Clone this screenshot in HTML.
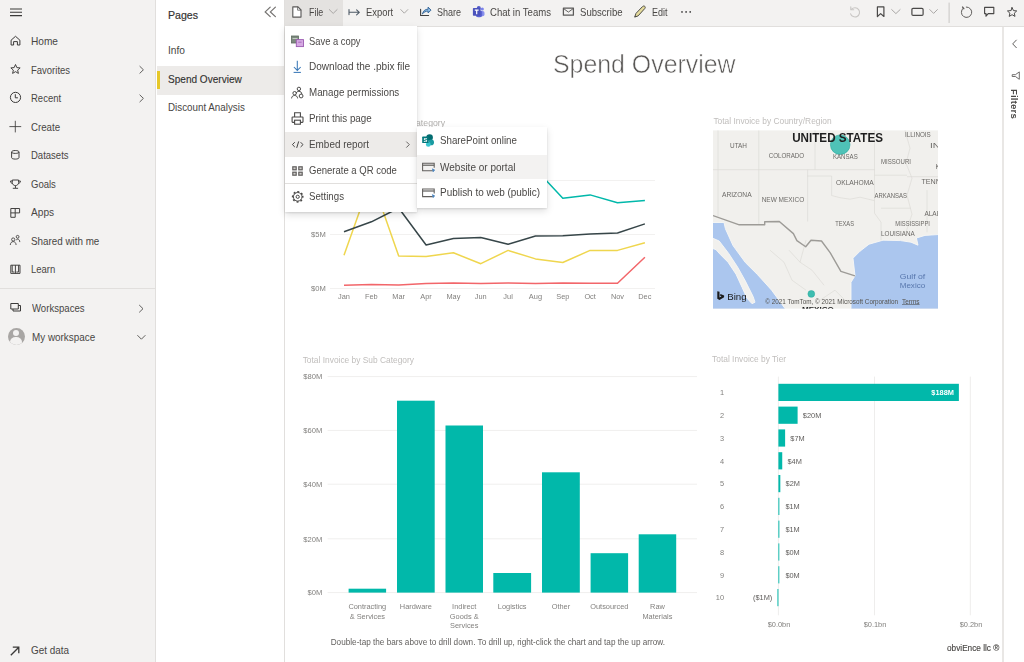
<!DOCTYPE html>
<html><head><meta charset="utf-8"><style>
html,body{margin:0;padding:0;}
body{width:1024px;height:662px;position:relative;overflow:hidden;background:#fff;font-family:"Liberation Sans",sans-serif;}
.t{position:absolute;white-space:nowrap;line-height:1;}
#wrap{position:absolute;left:0;top:0;width:1024px;height:662px;overflow:hidden;filter:blur(0.35px);}
</style></head><body><div id="wrap">
<div style="position:absolute;left:0;top:0;width:155px;height:662px;background:#f3f2f1;border-right:1px solid #e1dfdd"></div>
<svg style="position:absolute;left:0;top:0" width="156" height="662" viewBox="0 0 156 662" fill="none" stroke="#3b3a39" stroke-width="1.1"><path d="M10 9h12M10 12.3h12M10 15.6h12"/><path d="M11.1 45V40.2L15.5 36.3L19.9 40.2V45H17.4V41.6H13.6V45Z" stroke-width="1"/><path d="M15.5 64.5l1.35 3.1 3.3.3-2.5 2.2.75 3.3-2.9-1.75-2.9 1.75.75-3.3-2.5-2.2 3.3-.3z" stroke-width="0.95"/><circle cx="15.5" cy="97.4" r="5.1" stroke-width="1"/><path d="M15.3 94.2v3.6h2.6" stroke-width="1"/><path d="M15.3 120.8v11.6M9.4 126.6h11.8" stroke-width="0.85"/><path d="M11.6 152v5.6c0 .9 1.6 1.5 3.7 1.5s3.7-.6 3.7-1.5v-5.6M11.6 152c0-.9 1.6-1.5 3.7-1.5s3.7.6 3.7 1.5-1.6 1.4-3.7 1.4-3.7-.5-3.7-1.4z" stroke-width="0.95"/><path d="M12.3 180h6.3v2.6c0 1.7-1.4 3-3.15 3s-3.15-1.3-3.15-3zM12.3 181h-1.8c0 1.5 .9 2.4 2 2.5M18.6 181h1.8c0 1.5-.9 2.4-2 2.5M15.45 185.6v2.4M12.8 188.3h5.3" stroke-width="0.95"/><path d="M10.8 208.5h8.8v4.4h-4.4v4.4h-4.4zM15.2 208.5v4.4h-4.4" stroke-width="0.95"/><circle cx="13.2" cy="239.5" r="1.6" stroke-width="0.85"/><path d="M10.3 245c0-2 1.3-3.4 2.9-3.4s2.9 1.4 2.9 3.4" stroke-width="0.85"/><circle cx="17.6" cy="236.8" r="1.4" stroke-width="0.85"/><path d="M16.2 240.3c.3-.8.8-1.2 1.4-1.2 1.2 0 2.2 1.2 2.2 3" stroke-width="0.85"/><path d="M10.8 265.2h9.2v8.2h-9.2zM15.4 265.2v8.2M12.2 265.2v6.8h2.2M18.6 265.2v6.8h-2.2" stroke-width="0.95"/><path d="M10.8 303.5h7.5v5.5h-7.5zM13 309v2h7.5v-5.5h-2.2" stroke-width="1"/><path d="M139.6 66.1l3.8 3.7-3.8 3.7M139.6 94.7l3.8 3.7-3.8 3.7M139.2 305l3.8 3.7-3.8 3.7M137.4 335.2l4 4 4-4" stroke-width="0.95" stroke="#5a5856"/><path d="M10.8 655.2l8-8M12.8 647.2h6v6" stroke-width="1.3"/></svg>
<div style="position:absolute;left:8.1px;top:327.8px;width:17.2px;height:17.2px;border-radius:50%;background:#a8a6a4;overflow:hidden"><div style="position:absolute;left:5px;top:2.6px;width:6px;height:6px;border-radius:50%;background:#f3f2f1"></div><div style="position:absolute;left:2.3px;top:9.5px;width:11.4px;height:10px;border-radius:50%;background:#f3f2f1"></div></div>
<div style="position:absolute;left:0;top:288px;width:155px;height:1px;background:#e1dfdd"></div>
<div class="t " style="left:30.90px;top:37.10px;font-size:10.4px;color:#484644;font-weight:normal;transform:scaleX(0.9732250470279463);transform-origin:0 0;">Home</div>
<div class="t " style="left:30.90px;top:65.50px;font-size:10.4px;color:#484644;font-weight:normal;transform:scaleX(0.9142095579907848);transform-origin:0 0;">Favorites</div>
<div class="t " style="left:30.90px;top:94.30px;font-size:10.4px;color:#484644;font-weight:normal;transform:scaleX(0.9134342738899288);transform-origin:0 0;">Recent</div>
<div class="t " style="left:30.90px;top:122.70px;font-size:10.4px;color:#484644;font-weight:normal;transform:scaleX(0.932206783325992);transform-origin:0 0;">Create</div>
<div class="t " style="left:30.90px;top:151.10px;font-size:10.4px;color:#484644;font-weight:normal;transform:scaleX(0.9161388766638899);transform-origin:0 0;">Datasets</div>
<div class="t " style="left:30.90px;top:179.60px;font-size:10.4px;color:#484644;font-weight:normal;transform:scaleX(0.9165067840825958);transform-origin:0 0;">Goals</div>
<div class="t " style="left:30.90px;top:208.30px;font-size:10.4px;color:#484644;font-weight:normal;transform:scaleX(0.9744574043998228);transform-origin:0 0;">Apps</div>
<div class="t " style="left:30.90px;top:236.70px;font-size:10.4px;color:#484644;font-weight:normal;transform:scaleX(0.9465965253403127);transform-origin:0 0;">Shared with me</div>
<div class="t " style="left:30.90px;top:265.10px;font-size:10.4px;color:#484644;font-weight:normal;transform:scaleX(0.913518809606045);transform-origin:0 0;">Learn</div>
<div class="t " style="left:31.80px;top:304.20px;font-size:10.4px;color:#484644;font-weight:normal;transform:scaleX(0.9223448337839484);transform-origin:0 0;">Workspaces</div>
<div class="t " style="left:32.40px;top:332.50px;font-size:10.4px;color:#484644;font-weight:normal;transform:scaleX(0.9508889193982466);transform-origin:0 0;">My workspace</div>
<div class="t " style="left:30.90px;top:646.30px;font-size:10.4px;color:#484644;font-weight:normal;transform:scaleX(0.9525301582328062);transform-origin:0 0;">Get data</div>
<div style="position:absolute;left:156px;top:0;width:128px;height:662px;background:#fff;border-right:1px solid #e1dfdd"></div>
<div class="t " style="left:167.60px;top:9.70px;font-size:11px;color:#323130;font-weight:normal;transform:scaleX(0.961815426617741);transform-origin:0 0;-webkit-text-stroke:0.2px #3b3a39;">Pages</div>
<svg style="position:absolute;left:0;top:0" width="285" height="25" viewBox="0 0 285 25" fill="none" stroke="#767472" stroke-width="1.25" stroke-linecap="round"><path d="M270.2 7.1L265.2 11.9 270.2 16.6M275.4 7.1L270.4 11.9 275.4 16.6"/></svg>
<div style="position:absolute;left:157px;top:66px;width:127px;height:28.6px;background:#edebe9"></div>
<div style="position:absolute;left:157.4px;top:71px;width:2.6px;height:18px;background:#e6c82a"></div>
<div class="t " style="left:167.50px;top:46.10px;font-size:10.4px;color:#484644;font-weight:normal;transform:scaleX(0.9800036029544226);transform-origin:0 0;">Info</div>
<div class="t " style="left:167.50px;top:74.60px;font-size:10.4px;color:#323130;font-weight:normal;transform:scaleX(0.9671593380266118);transform-origin:0 0;-webkit-text-stroke:0.12px #323130;">Spend Overview</div>
<div class="t " style="left:167.50px;top:102.70px;font-size:10.4px;color:#484644;font-weight:normal;transform:scaleX(0.9434895463904087);transform-origin:0 0;">Discount Analysis</div>
<div style="position:absolute;left:285px;top:0;width:739px;height:26px;background:#f3f2f1;border-bottom:1px solid #e1dfdd"></div>
<div style="position:absolute;left:285px;top:0;width:58px;height:26px;background:#e4e2e0"></div>
<div class="t " style="left:308.60px;top:7.80px;font-size:10.3px;color:#4a4846;font-weight:normal;transform:scaleX(0.8615763495785761);transform-origin:0 0;">File</div>
<div class="t " style="left:366.40px;top:7.80px;font-size:10.3px;color:#4a4846;font-weight:normal;transform:scaleX(0.9136894647269326);transform-origin:0 0;">Export</div>
<div class="t " style="left:437.00px;top:7.80px;font-size:10.3px;color:#4a4846;font-weight:normal;transform:scaleX(0.8731554165480004);transform-origin:0 0;">Share</div>
<div class="t " style="left:490.00px;top:7.80px;font-size:10.3px;color:#4a4846;font-weight:normal;transform:scaleX(0.9291865369343912);transform-origin:0 0;">Chat in Teams</div>
<div class="t " style="left:580.00px;top:7.80px;font-size:10.3px;color:#4a4846;font-weight:normal;transform:scaleX(0.9300575503811026);transform-origin:0 0;">Subscribe</div>
<div class="t " style="left:651.80px;top:7.80px;font-size:10.3px;color:#4a4846;font-weight:normal;transform:scaleX(0.8732890203713151);transform-origin:0 0;">Edit</div>
<svg style="position:absolute;left:0;top:0" width="1024" height="27" viewBox="0 0 1024 27" fill="none" stroke-linecap="round" stroke-linejoin="round"><path d="M292.8 6.9h5.2l3 3.1v7.1h-8.2z" fill="#fff" stroke="#5c5b5a" stroke-width="1.15"/><path d="M297.6 7v3.2h3.2" stroke="#5c5b5a" stroke-width="0.8"/><path d="M329.3 9.6l3.9 3.8 3.9-3.8M400.8 9.6l3.5 3.6 3.5-3.6M891.7 9.6l4.2 4 4.2-4M929.8 9.6l3.8 3.8 3.8-3.8" stroke="#a19f9d" stroke-width="0.9"/><path d="M349 9.6v5M349 12.3h10.3M356.6 9.8l2.7 2.5-2.7 2.5" stroke="#4e5a66" stroke-width="1.1"/><path d="M420.6 9.2v6.3h8" stroke="#3f3f3f" stroke-width="1.1"/><path d="M422.6 13.6c0.5-2.9 2.7-4.4 5.5-4.4v-2.1l2.9 3-2.9 2.9v-1.9c-2.3 0-4 0.9-5.5 2.5z" fill="#8dbbe4" stroke="#2d5f92" stroke-width="0.9"/><circle cx="482.3" cy="9" r="1.6" fill="#7b83eb"/><rect x="478.5" y="10.9" width="6" height="5.3" rx="1.8" fill="#8a91ee"/><circle cx="478.8" cy="8" r="2" fill="#5059c9"/><rect x="475.8" y="10.4" width="6.4" height="6.8" rx="2.2" fill="#5b63d3"/><rect x="472.9" y="8.1" width="7.6" height="7.6" rx="0.7" fill="#4b53bc"/><path d="M474.8 10.2h3.8M476.7 10.2v4" stroke="#fff" stroke-width="1.2" stroke-linecap="butt"/><rect x="563.4" y="8.2" width="10" height="7" stroke="#5c5b5a" stroke-width="1.25"/><path d="M563.6 8.6l4.8 3.5 4.8-3.5" stroke="#5c5b5a" stroke-width="0.95"/><path d="M642.7 6.4c0.6-0.6 1.5-0.6 2.1 0s0.6 1.5 0 2.1L638.1 15.9 634.7 17.1 635.9 13.7Z" fill="#e6dc9c" stroke="#4d4c45" stroke-width="1"/><path d="M634.6 17.2l1.6-0.6-1-1z" fill="#4d4c45"/><circle cx="682" cy="11.9" r="0.85" fill="#3b3a39"/><circle cx="686.1" cy="11.9" r="0.85" fill="#3b3a39"/><circle cx="690.2" cy="11.9" r="0.85" fill="#3b3a39"/><path d="M851.6 9.2a4.6 4.6 0 1 1-1 4.6" stroke="#c8c6c4" stroke-width="1.1"/><path d="M850.8 6.9v2.9h2.9" stroke="#c8c6c4" stroke-width="1.1"/><path d="M877.4 6.9h6.5v9.6l-3.25-2.9-3.25 2.9z" stroke="#4a4948" stroke-width="1.2"/><rect x="911.9" y="8.4" width="11.2" height="7" rx="1.2" stroke="#4a4948" stroke-width="1.2"/><path d="M949.1 3v19.6" stroke="#c8c6c4" stroke-width="1"/><path d="M963.2 8.2a5.2 5.2 0 1 0 3.1-1.2" stroke="#605e5c" stroke-width="1"/><path d="M962.6 7.1l1.2 1.6" stroke="#605e5c" stroke-width="1.4"/><path d="M984.6 7.4h9.2v6.2h-5.6l-2.2 2.6v-2.6h-1.4z" stroke="#4a4948" stroke-width="1.15"/><path d="M1012.1 7.6l1.35 3 3.3.35-2.45 2.2.7 3.25-2.9-1.7-2.9 1.7.7-3.25-2.45-2.2 3.3-.35z" stroke="#4a4948" stroke-width="1"/></svg>
<div class="t " style="left:553.20px;top:50.80px;font-size:26.2px;color:#5a5856;font-weight:normal;transform:scaleX(0.95);transform-origin:0 0;-webkit-text-stroke:0.55px #fff;">Spend Overview</div>
<div class="t " style="left:416.40px;top:119.40px;font-size:8.4px;color:#b0aeac;font-weight:normal;transform:scaleX(1.042165080108633);transform-origin:0 0;">ategory</div>
<div class="t " style="left:306.79px;top:176.70px;font-size:7.6px;color:#82807e;font-weight:normal;">$10M</div>
<div class="t " style="left:311.02px;top:230.70px;font-size:7.6px;color:#82807e;font-weight:normal;">$5M</div>
<div class="t " style="left:311.02px;top:284.70px;font-size:7.6px;color:#82807e;font-weight:normal;">$0M</div>
<div class="t " style="left:306.79px;top:122.70px;font-size:7.6px;color:#82807e;font-weight:normal;">$15M</div>
<div class="t " style="left:338.03px;top:293.20px;font-size:7.4px;color:#82807e;font-weight:normal;">Jan</div>
<div class="t " style="left:364.97px;top:293.20px;font-size:7.4px;color:#82807e;font-weight:normal;">Feb</div>
<div class="t " style="left:392.33px;top:293.20px;font-size:7.4px;color:#82807e;font-weight:normal;">Mar</div>
<div class="t " style="left:420.29px;top:293.20px;font-size:7.4px;color:#82807e;font-weight:normal;">Apr</div>
<div class="t " style="left:446.41px;top:293.20px;font-size:7.4px;color:#82807e;font-weight:normal;">May</div>
<div class="t " style="left:474.78px;top:293.20px;font-size:7.4px;color:#82807e;font-weight:normal;">Jun</div>
<div class="t " style="left:503.37px;top:293.20px;font-size:7.4px;color:#82807e;font-weight:normal;">Jul</div>
<div class="t " style="left:528.87px;top:293.20px;font-size:7.4px;color:#82807e;font-weight:normal;">Aug</div>
<div class="t " style="left:556.22px;top:293.20px;font-size:7.4px;color:#82807e;font-weight:normal;">Sep</div>
<div class="t " style="left:584.39px;top:293.20px;font-size:7.4px;color:#82807e;font-weight:normal;">Oct</div>
<div class="t " style="left:610.92px;top:293.20px;font-size:7.4px;color:#82807e;font-weight:normal;">Nov</div>
<div class="t " style="left:638.27px;top:293.20px;font-size:7.4px;color:#82807e;font-weight:normal;">Dec</div>
<svg style="position:absolute;left:0;top:0" width="1024" height="662" viewBox="0 0 1024 662" fill="none"><path d="M330 180.5H655" stroke="#f2f1f0" stroke-width="1"/><path d="M330 234.5H655" stroke="#f2f1f0" stroke-width="1"/><path d="M330 288.5H655" stroke="#f2f1f0" stroke-width="1"/><polyline points="344.0,285.2 371.4,284.5 398.7,285.0 426.1,283.5 453.4,283.0 480.8,283.5 508.1,283.0 535.5,283.5 562.8,283.0 590.1,283.3 617.5,283.3 644.9,257.2" stroke="#f2666a" stroke-width="1.5" stroke-linejoin="round"/><polyline points="344.0,255.3 371.4,178.0 398.7,256.0 426.1,256.4 453.4,252.8 480.8,263.7 508.1,250.4 535.5,258.9 562.8,262.5 590.1,250.4 617.5,250.4 644.9,242.7" stroke="#efd64e" stroke-width="1.5" stroke-linejoin="round"/><polyline points="344.0,231.7 371.4,221.8 398.7,208.0 426.1,245.0 453.4,238.6 480.8,237.4 508.1,244.3 535.5,236.0 562.8,235.7 590.1,233.9 617.5,233.0 644.9,223.9" stroke="#374649" stroke-width="1.5" stroke-linejoin="round"/><polyline points="344.0,175.0 371.4,160.0 398.7,150.0 426.1,185.0 453.4,170.0 480.8,178.0 508.1,172.0 535.5,169.0 562.8,198.2 590.1,194.9 617.5,202.7 644.9,200.6" stroke="#01b8aa" stroke-width="1.5" stroke-linejoin="round"/><path d="M327.6 376.6H697" stroke="#f0efee" stroke-width="1"/><path d="M327.6 430.4H697" stroke="#f0efee" stroke-width="1"/><path d="M327.6 484.2H697" stroke="#f0efee" stroke-width="1"/><path d="M327.6 538.8H697" stroke="#f0efee" stroke-width="1"/><path d="M327.6 592.6H697" stroke="#f0efee" stroke-width="1"/><rect x="348.6" y="588.7" width="37.5" height="3.9" fill="#01b8aa"/><rect x="397" y="400.7" width="37.7" height="191.9" fill="#01b8aa"/><rect x="445.5" y="425.5" width="37.5" height="167.1" fill="#01b8aa"/><rect x="493.3" y="573" width="37.8" height="19.6" fill="#01b8aa"/><rect x="542" y="472.3" width="37.8" height="120.3" fill="#01b8aa"/><rect x="590.6" y="553.2" width="37.5" height="39.4" fill="#01b8aa"/><rect x="638.7" y="534.3" width="37.5" height="58.3" fill="#01b8aa"/><path d="M778.4 376.6V615.3" stroke="#eeedec" stroke-width="1"/><path d="M874.5 376.6V615.3" stroke="#eeedec" stroke-width="1"/><path d="M970.3 376.6V615.3" stroke="#eeedec" stroke-width="1"/><rect x="778.4" y="383.8" width="180.48" height="17.2" fill="#01b8aa"/><rect x="778.4" y="406.6" width="19.20" height="17.2" fill="#01b8aa"/><rect x="778.4" y="429.4" width="6.72" height="17.2" fill="#01b8aa"/><rect x="778.4" y="452.2" width="3.84" height="17.2" fill="#01b8aa"/><rect x="778.4" y="475.0" width="1.92" height="17.2" fill="#01b8aa"/><rect x="778.4" y="497.8" width="0.96" height="17.2" fill="#01b8aa"/><rect x="778.4" y="520.6" width="0.96" height="17.2" fill="#01b8aa"/><rect x="778.4" y="543.4" width="0.90" height="17.2" fill="#01b8aa"/><rect x="778.4" y="566.2" width="0.90" height="17.2" fill="#01b8aa"/><rect x="777.44" y="589.0" width="0.96" height="17.2" fill="#01b8aa"/></svg>
<div class="t " style="left:302.70px;top:356.00px;font-size:8.4px;color:#c0bebc;font-weight:normal;">Total Invoice by Sub Category</div>
<div class="t " style="left:303.29px;top:373.40px;font-size:7.6px;color:#82807e;font-weight:normal;">$80M</div>
<div class="t " style="left:303.29px;top:427.20px;font-size:7.6px;color:#82807e;font-weight:normal;">$60M</div>
<div class="t " style="left:303.29px;top:481.00px;font-size:7.6px;color:#82807e;font-weight:normal;">$40M</div>
<div class="t " style="left:303.29px;top:535.60px;font-size:7.6px;color:#82807e;font-weight:normal;">$20M</div>
<div class="t " style="left:307.52px;top:589.40px;font-size:7.6px;color:#82807e;font-weight:normal;">$0M</div>
<div class="t " style="left:348.43px;top:603.30px;font-size:7.4px;color:#82807e;font-weight:normal;">Contracting</div>
<div class="t " style="left:349.67px;top:612.70px;font-size:7.4px;color:#82807e;font-weight:normal;">&amp; Services</div>
<div class="t " style="left:399.81px;top:603.30px;font-size:7.4px;color:#82807e;font-weight:normal;">Hardware</div>
<div class="t " style="left:452.12px;top:603.30px;font-size:7.4px;color:#82807e;font-weight:normal;">Indirect</div>
<div class="t " style="left:449.85px;top:612.70px;font-size:7.4px;color:#82807e;font-weight:normal;">Goods &amp;</div>
<div class="t " style="left:450.06px;top:622.10px;font-size:7.4px;color:#82807e;font-weight:normal;">Services</div>
<div class="t " style="left:497.80px;top:603.30px;font-size:7.4px;color:#82807e;font-weight:normal;">Logistics</div>
<div class="t " style="left:551.65px;top:603.30px;font-size:7.4px;color:#82807e;font-weight:normal;">Other</div>
<div class="t " style="left:590.22px;top:603.30px;font-size:7.4px;color:#82807e;font-weight:normal;">Outsourced</div>
<div class="t " style="left:650.05px;top:603.30px;font-size:7.4px;color:#82807e;font-weight:normal;">Raw</div>
<div class="t " style="left:642.44px;top:612.70px;font-size:7.4px;color:#82807e;font-weight:normal;">Materials</div>
<div class="t " style="left:330.70px;top:639.00px;font-size:8.2px;color:#63615f;font-weight:normal;">Double-tap the bars above to drill down. To drill up, right-click the chart and tap the up arrow.</div>
<div class="t " style="left:712.10px;top:355.00px;font-size:8.4px;color:#c0bebc;font-weight:normal;">Total Invoice by Tier</div>
<div class="t " style="left:719.88px;top:389.10px;font-size:7.4px;color:#82807e;font-weight:normal;">1</div>
<div class="t " style="left:719.88px;top:411.90px;font-size:7.4px;color:#82807e;font-weight:normal;">2</div>
<div class="t " style="left:719.88px;top:434.70px;font-size:7.4px;color:#82807e;font-weight:normal;">3</div>
<div class="t " style="left:719.88px;top:457.50px;font-size:7.4px;color:#82807e;font-weight:normal;">4</div>
<div class="t " style="left:719.88px;top:480.30px;font-size:7.4px;color:#82807e;font-weight:normal;">5</div>
<div class="t " style="left:719.88px;top:503.10px;font-size:7.4px;color:#82807e;font-weight:normal;">6</div>
<div class="t " style="left:719.88px;top:525.90px;font-size:7.4px;color:#82807e;font-weight:normal;">7</div>
<div class="t " style="left:719.88px;top:548.70px;font-size:7.4px;color:#82807e;font-weight:normal;">8</div>
<div class="t " style="left:719.88px;top:571.50px;font-size:7.4px;color:#82807e;font-weight:normal;">9</div>
<div class="t " style="left:715.77px;top:594.30px;font-size:7.4px;color:#82807e;font-weight:normal;">10</div>
<div class="t " style="left:931.37px;top:389.10px;font-size:7.4px;color:#ffffff;font-weight:bold;">$188M</div>
<div class="t " style="left:802.80px;top:411.90px;font-size:7.4px;color:#605e5c;font-weight:normal;">$20M</div>
<div class="t " style="left:790.32px;top:434.70px;font-size:7.4px;color:#605e5c;font-weight:normal;">$7M</div>
<div class="t " style="left:787.44px;top:457.50px;font-size:7.4px;color:#605e5c;font-weight:normal;">$4M</div>
<div class="t " style="left:785.52px;top:480.30px;font-size:7.4px;color:#605e5c;font-weight:normal;">$2M</div>
<div class="t " style="left:785.40px;top:503.10px;font-size:7.4px;color:#605e5c;font-weight:normal;">$1M</div>
<div class="t " style="left:785.40px;top:525.90px;font-size:7.4px;color:#605e5c;font-weight:normal;">$1M</div>
<div class="t " style="left:785.40px;top:548.70px;font-size:7.4px;color:#605e5c;font-weight:normal;">$0M</div>
<div class="t " style="left:785.40px;top:571.50px;font-size:7.4px;color:#605e5c;font-weight:normal;">$0M</div>
<div class="t " style="left:752.98px;top:594.30px;font-size:7.4px;color:#605e5c;font-weight:normal;">($1M)</div>
<div class="t " style="left:767.68px;top:621.00px;font-size:7.4px;color:#82807e;font-weight:normal;">$0.0bn</div>
<div class="t " style="left:863.68px;top:621.00px;font-size:7.4px;color:#82807e;font-weight:normal;">$0.1bn</div>
<div class="t " style="left:959.68px;top:621.00px;font-size:7.4px;color:#82807e;font-weight:normal;">$0.2bn</div>
<div class="t " style="left:947.20px;top:643.90px;font-size:8.6px;color:#4a4846;font-weight:normal;transform:scaleX(0.9594249858457917);transform-origin:0 0;-webkit-text-stroke:0.15px #4a4846;">obviEnce llc &#174;</div>
<div class="t " style="left:713.40px;top:116.80px;font-size:8.4px;color:#c0bebc;font-weight:normal;">Total Invoice by Country/Region</div>
<svg style="position:absolute;left:713px;top:130px" width="225" height="179" viewBox="713 130 225 178.6" font-family="Liberation Sans"><defs><clipPath id="mc"><rect x="713" y="130" width="225" height="178.6"/></clipPath></defs><g clip-path="url(#mc)"><rect x="713" y="130" width="225" height="178.6" fill="#f1f0ed"/><g fill="#abc6ee" stroke="#f7f7f5" stroke-width="0.9"><path d="M851 309V282L855 275.6 853 258 860 251 869 244 883 240 900.6 240.4 911 242 918 245 916.4 237.8 925 235.2 939 234.3V309Z"/><path d="M712 222.3H724L725.4 228.5 733 245.4 745.4 262.4 757.8 274.7 771.6 290 785.5 309H712Z"/></g><path d="M712 237.7L719.2 240.8 728.5 253 737.7 267 745.4 280.9 753.1 296.3 755 302 752 303.5 747 298 742 287 736 274 728 262 720 254 716 249.5 712 248Z" fill="#f1f0ed" stroke="#f7f7f5" stroke-width="0.9"/><g stroke="#dcdad6" stroke-width="0.65" fill="none"><path d="M718 130V216M758.8 130V224M713 169.5H875M807.6 169.5V221.3M815 130V169.5M874.5 130V213M807 175.8H831.6V195.3"/><path d="M831.6 195.3L840 197.5 850 199 860 197 874.5 200.5"/><path d="M874.5 175H907M907 176.5H938M927 190V232M874.5 213L881 222 881 240M881 208H911"/><path d="M905 130L910 148 906 163 912 178 907 195 912 214 906 232"/><path d="M789 250L800 262 812 270 824 285M770 250L784 262 792 280 806 290M800 262L806 240M820 300L835 290 845 300"/></g><path d="M713 215.4L739.3 224.6H764.7V221.6L779.3 221.3 793.4 233.4 796.9 240.4 805.7 246.6 811 240 821.5 240.8 830.3 252.7 837.3 265 840.9 271.2 855 275.6" stroke="#9d9b97" stroke-width="1.4" fill="none" stroke-linejoin="round"/><circle cx="840.2" cy="144.5" r="9.8" fill="#3dbdb0" fill-opacity="0.9" stroke="#2aa99c" stroke-width="0.6"/><circle cx="811.3" cy="293.7" r="3.4" fill="#3dbdb0" stroke="#2aa99c" stroke-width="0.5"/><text x="730" y="147.78" font-size="6.6" fill="#6b6966" font-weight="normal" textLength="17.0" lengthAdjust="spacingAndGlyphs">UTAH</text><text x="768.7" y="157.88" font-size="6.6" fill="#6b6966" font-weight="normal" textLength="35.5" lengthAdjust="spacingAndGlyphs">COLORADO</text><text x="833" y="158.38" font-size="6.6" fill="#6b6966" font-weight="normal" textLength="24.7" lengthAdjust="spacingAndGlyphs">KANSAS</text><text x="905" y="136.78" font-size="6.6" fill="#6b6966" font-weight="normal" textLength="25.8" lengthAdjust="spacingAndGlyphs">ILLINOIS</text><text x="930" y="147.68" font-size="6.6" fill="#6b6966" font-weight="normal" textLength="10.0" lengthAdjust="spacingAndGlyphs">IN</text><text x="881" y="163.38" font-size="6.6" fill="#6b6966" font-weight="normal" textLength="30.0" lengthAdjust="spacingAndGlyphs">MISSOURI</text><text x="836" y="185.18" font-size="6.6" fill="#6b6966" font-weight="normal" textLength="37.8" lengthAdjust="spacingAndGlyphs">OKLAHOMA</text><text x="874.5" y="197.68" font-size="6.6" fill="#6b6966" font-weight="normal" textLength="32.4" lengthAdjust="spacingAndGlyphs">ARKANSAS</text><text x="921.4" y="183.38" font-size="6.6" fill="#6b6966" font-weight="normal" textLength="19.6" lengthAdjust="spacingAndGlyphs">TENN</text><text x="722" y="197.18" font-size="6.6" fill="#6b6966" font-weight="normal" textLength="29.6" lengthAdjust="spacingAndGlyphs">ARIZONA</text><text x="761.7" y="201.38" font-size="6.6" fill="#6b6966" font-weight="normal" textLength="42.5" lengthAdjust="spacingAndGlyphs">NEW MEXICO</text><text x="835.2" y="226.08" font-size="6.6" fill="#6b6966" font-weight="normal" textLength="18.8" lengthAdjust="spacingAndGlyphs">TEXAS</text><text x="895.3" y="226.08" font-size="6.6" fill="#6b6966" font-weight="normal" textLength="34.7" lengthAdjust="spacingAndGlyphs">MISSISSIPPI</text><text x="881" y="236.08" font-size="6.6" fill="#6b6966" font-weight="normal" textLength="33.7" lengthAdjust="spacingAndGlyphs">LOUISIANA</text><text x="924.4" y="215.38" font-size="6.6" fill="#6b6966" font-weight="normal" textLength="16.6" lengthAdjust="spacingAndGlyphs">ALAB</text><text x="935.5" y="168.38" font-size="6.6" fill="#6b6966" font-weight="normal" textLength="4.5" lengthAdjust="spacingAndGlyphs">K</text><text x="899.7" y="278.74" font-size="7.6" fill="#5877ad" font-weight="normal" textLength="25.5" lengthAdjust="spacingAndGlyphs">Gulf of</text><text x="899.7" y="288.04" font-size="7.6" fill="#5877ad" font-weight="normal" textLength="25.5" lengthAdjust="spacingAndGlyphs">Mexico</text><text x="792.2" y="142.28" font-size="11.9" fill="#1f1f1f" font-weight="bold" textLength="90.8" lengthAdjust="spacingAndGlyphs">UNITED STATES</text><text x="802" y="311.98" font-size="8" fill="#1f1f1f" font-weight="bold" textLength="31.8" lengthAdjust="spacingAndGlyphs">MEXICO</text><text x="765.3" y="303.67" font-size="6.3" fill="#55534f" font-weight="normal" textLength="132.7" lengthAdjust="spacingAndGlyphs">&#169; 2021 TomTom, &#169; 2021 Microsoft Corporation</text><text x="902" y="303.67" font-size="6.3" fill="#55534f" font-weight="normal" textLength="17.6" lengthAdjust="spacingAndGlyphs">Terms</text><path d="M902 304.3H919.6" stroke="#3b3a39" stroke-width="0.5"/><path d="M717.3 291v7.6l2.2 1.2 4.6-2.7v-1.9l-3.6-1.3-0.6 1.4 1.6 0.7-2 1.2v-5.6z" fill="#1b1b1b"/><text x="727.2" y="299.61" font-size="9.2" fill="#1b1b1b" font-weight="normal" textLength="19.4" lengthAdjust="spacingAndGlyphs">Bing</text></g></svg>
<svg style="position:absolute;left:1003px;top:27px" width="21" height="100" viewBox="1003 27 21 100" fill="none" stroke="#605e5c"><path d="M1016.6 39.8l-3.9 4.1 3.9 4.1" stroke-width="1"/><path d="M1019.3 71.9V79.3L1015.4 76.5H1012.2V74.7H1015.4Z" stroke-width="0.9" stroke-linejoin="round"/></svg>
<div class="t" style="left:1009.6px;top:88.8px;font-size:9.5px;font-weight:bold;color:#4a4846;letter-spacing:0.2px;writing-mode:vertical-rl;">Filters</div>
<div style="position:absolute;left:1002px;top:27px;width:2px;height:635px;background:#e9e7e5"></div>
<div style="position:absolute;left:285px;top:26px;width:131.5px;height:186px;background:#fff;box-shadow:0 3.2px 7.2px rgba(0,0,0,0.13),0 0.6px 1.8px rgba(0,0,0,0.11)"></div>
<div style="position:absolute;left:285px;top:131.5px;width:131.5px;height:25.5px;background:#edebe9"></div>
<div style="position:absolute;left:285px;top:183px;width:131.5px;height:1px;background:#e1dfdd"></div>
<div class="t " style="left:309.30px;top:36.80px;font-size:10.4px;color:#4a4846;font-weight:normal;transform:scaleX(0.901521645364359);transform-origin:0 0;">Save a copy</div>
<div class="t " style="left:309.30px;top:61.90px;font-size:10.4px;color:#4a4846;font-weight:normal;transform:scaleX(0.9671080530619314);transform-origin:0 0;">Download the .pbix file</div>
<div class="t " style="left:309.30px;top:88.30px;font-size:10.4px;color:#4a4846;font-weight:normal;transform:scaleX(0.9410219936535726);transform-origin:0 0;">Manage permissions</div>
<div class="t " style="left:309.30px;top:113.60px;font-size:10.4px;color:#4a4846;font-weight:normal;transform:scaleX(0.9445819557396423);transform-origin:0 0;">Print this page</div>
<div class="t " style="left:309.30px;top:139.80px;font-size:10.4px;color:#4a4846;font-weight:normal;transform:scaleX(0.9537894184522936);transform-origin:0 0;">Embed report</div>
<div class="t " style="left:309.30px;top:166.10px;font-size:10.4px;color:#4a4846;font-weight:normal;transform:scaleX(0.9159338891631419);transform-origin:0 0;">Generate a QR code</div>
<div class="t " style="left:309.30px;top:192.40px;font-size:10.4px;color:#4a4846;font-weight:normal;transform:scaleX(0.9313727936027993);transform-origin:0 0;">Settings</div>
<svg style="position:absolute;left:0;top:0" width="560" height="215" viewBox="0 0 560 215" fill="none"><rect x="291.5" y="36" width="7" height="7" fill="#7d8a7e" stroke="#5d6a5f" stroke-width="0.8"/><path d="M292.5 38.5h5" stroke="#c9d1c9" stroke-width="0.9"/><rect x="296.3" y="39.6" width="7.2" height="7" fill="#d6a9e3" stroke="#9b5cb1" stroke-width="0.9"/><path d="M298.2 42.2h3.4" stroke="#9b5cb1" stroke-width="0.8"/><path d="M297.3 60.8v9.6M293.9 67l3.4 3.4 3.4-3.4" stroke="#3b79b8" stroke-width="1.05"/><path d="M293.6 72.4h7.3" stroke="#3b79b8" stroke-width="1.05"/><g stroke="#4a4948" stroke-width="1"><circle cx="298.9" cy="88.9" r="1.7"/><path d="M296 94.2c0-1.8 1.3-2.9 2.9-2.9s2.9 1.1 2.9 2.9"/><circle cx="294.6" cy="93.2" r="1.7" fill="#fff"/><path d="M291.6 98.4c0-1.8 1.3-2.9 3-2.9s3 1.1 3 2.9"/><circle cx="301.1" cy="96" r="1.9" fill="#fff"/></g><g stroke="#4a4948" stroke-width="1.1"><path d="M294.6 117v-4.2h5.8v4.2"/><rect x="292.1" y="117" width="10.9" height="5.4" rx="0.6"/><rect x="294.6" y="120.2" width="5.8" height="4" fill="#fff"/></g><path d="M294.8 142.2l-2.4 2.4 2.4 2.4M300.6 142.2l2.4 2.4-2.4 2.4M298.7 141.4l-2 6.5" stroke="#3b3a39" stroke-width="0.95"/><path d="M406.3 141.6l3 3-3 3" stroke="#605e5c" stroke-width="0.95"/><g fill="#605e5c"><rect x="292.2" y="166.2" width="4.6" height="4.2"/><rect x="298.2" y="166.2" width="4.6" height="4.2"/><rect x="292.2" y="171.6" width="4.6" height="4.2"/><rect x="298.2" y="171.6" width="4.6" height="4.2"/></g><g fill="#d0cecc"><rect x="293.4" y="167.4" width="2.2" height="1.8"/><rect x="299.4" y="167.4" width="2.2" height="1.8"/><rect x="293.4" y="172.8" width="2.2" height="1.8"/><rect x="299.4" y="172.8" width="2.2" height="1.8"/></g><g stroke="#4a4948" fill="none"><circle cx="297.7" cy="196.8" r="1.6" stroke-width="1"/><circle cx="297.7" cy="196.8" r="4.3" stroke-width="1"/><circle cx="297.7" cy="196.8" r="5.1" stroke-width="1.5" stroke-dasharray="1.9 2.1" transform="rotate(-11 297.7 196.8)"/></g></svg>
<div style="position:absolute;left:416.5px;top:127px;width:130.5px;height:80.5px;background:#fff;box-shadow:0 3.2px 7.2px rgba(0,0,0,0.13),0 0.6px 1.8px rgba(0,0,0,0.11)"></div>
<div style="position:absolute;left:416.5px;top:154.5px;width:130.5px;height:24.7px;background:#f3f2f1"></div>
<div class="t " style="left:440.10px;top:136.30px;font-size:10.4px;color:#4a4846;font-weight:normal;transform:scaleX(0.937807813339707);transform-origin:0 0;">SharePoint online</div>
<div class="t " style="left:440.10px;top:162.60px;font-size:10.4px;color:#4a4846;font-weight:normal;transform:scaleX(0.9627239349268751);transform-origin:0 0;">Website or portal</div>
<div class="t " style="left:440.10px;top:188.40px;font-size:10.4px;color:#4a4846;font-weight:normal;transform:scaleX(0.9576334411905422);transform-origin:0 0;">Publish to web (public)</div>
<svg style="position:absolute;left:0;top:0" width="560" height="215" viewBox="0 0 560 215" fill="none"><circle cx="429.6" cy="137.6" r="3.3" fill="#036c70"/><circle cx="431.2" cy="142.4" r="2.8" fill="#1a9ba1"/><circle cx="428.3" cy="144.4" r="2.4" fill="#37c6d0"/><rect x="422.2" y="136.6" width="6.4" height="6.4" rx="0.6" fill="#03787c"/><text x="425.4" y="141.8" font-family="Liberation Sans" font-weight="bold" font-size="5.8" fill="#fff" text-anchor="middle">S</text><g stroke="#605e5c" stroke-width="1.05"><path d="M432.8 170.8h-10.2v-7.6h11.6v4.5"/><path d="M422.6 165.2h11.6" stroke-width="1.2"/></g><path d="M432.4 168.8l2.4 1.4-1.2 0.4-0.4 1.3z" fill="#3b79b8" stroke="#3b79b8" stroke-width="0.6"/><g stroke="#605e5c" stroke-width="1.05"><path d="M432.8 196.6h-10.2v-7.6h11.6v4.5"/><path d="M422.6 191h11.6" stroke-width="1.2"/></g><path d="M432.4 194.6l2.4 1.4-1.2 0.4-0.4 1.3z" fill="#3b79b8" stroke="#3b79b8" stroke-width="0.6"/></svg>
</div></body></html>
